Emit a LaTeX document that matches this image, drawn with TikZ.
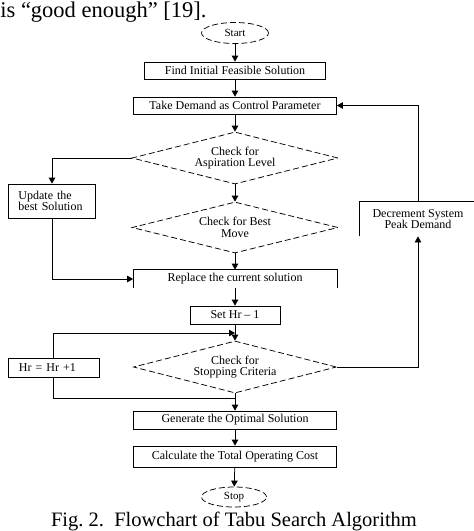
\documentclass[tikz,border=0pt]{standalone}
\usepackage{fontspec}
\setmainfont{Liberation Serif}
\usetikzlibrary{shapes.geometric,arrows.meta}
\newcommand\boxfnt{\fontsize{12}{11.5}\selectfont}
\begin{document}
\begin{tikzpicture}[x=1pt,y=-1pt,
  line width=0.75pt,
  procbox/.style={draw, rectangle, inner sep=1pt, minimum width=203pt, minimum height=18pt, font=\boxfnt},
  openbox/.style={rectangle, inner sep=1pt, font=\boxfnt, align=center},
  decision/.style={draw, diamond, shape aspect=4, inner sep=0pt, dash pattern=on 6pt off 3pt, align=center, font=\boxfnt},
  terminal/.style={draw, ellipse, inner sep=0pt, dash pattern=on 6pt off 3pt, font=\fontsize{11}{11}\selectfont},
  conn/.style={-{Triangle[length=6pt,width=6.5pt]}}
]
\useasboundingbox (0,0) rectangle (474,531);

% surrounding text
\node[anchor=base west, inner sep=0pt, font=\fontsize{22.5}{24}\selectfont] (toptext) at (0,17) {is “good enough” [19].};
\node[anchor=base, inner sep=0pt, font=\fontsize{20.5}{24}\selectfont] (caption) at (234,526) {Fig.~2.\ \ Flowchart of Tabu Search Algorithm};

% main column
\node[terminal, minimum width=67pt, minimum height=21pt] (start) at (235,33) {Start};
\node[procbox, minimum width=181pt, minimum height=17pt] (find) at (235,70.5) {Find Initial Feasible Solution};
\node[procbox, minimum height=17pt] (take) at (235,105.5) {Take Demand as Control Parameter};
\node[decision, minimum width=206pt, minimum height=52pt] (d1) at (235,158) {Check for\\Aspiration Level};
\node[decision, minimum width=206pt, minimum height=51pt] (d2) at (235,227.5) {Check for Best\\Move};
\node[openbox, minimum width=203pt, minimum height=18pt] (replace) at (235,279) {Replace the current solution};
\draw (replace.south west) -- (replace.north west) -- (replace.north east) -- (replace.south east);
\node[procbox, minimum width=90pt] (set) at (235,315) {Set Hr – 1};
\node[decision, minimum width=203pt, minimum height=52pt] (d3) at (235,367) {Check for\\Stopping Criteria};
\node[procbox] (gen) at (235,420) {Generate the Optimal Solution};
\node[procbox, minimum height=21pt] (calc) at (235,456.5) {Calculate the Total Operating Cost};
\node[terminal, minimum width=65pt, minimum height=20pt] (stop) at (234,497) {Stop};

% side boxes
\node[draw, rectangle, font=\boxfnt, align=left, inner xsep=10pt, inner ysep=1pt, text width=67pt, minimum height=34pt] (update) at (52,201) {Update the\\best Solution};
\node[draw, rectangle, font=\boxfnt, align=left, inner xsep=11pt, inner ysep=1pt, text width=69pt, minimum height=19pt] (hr) at (53.5,367.5) {Hr = Hr +1};
\node[openbox, minimum width=116pt, minimum height=34pt] (dec) at (418,219) {Decrement System\\Peak Demand};
\draw (dec.south west) -- (dec.north west) -- (dec.north east);

% junction points on the main column
\coordinate (j1) at (235,333);
\coordinate (j2) at (235,398);

% connectors
\draw[conn] (start) -- (find);
\draw[conn] (find) -- (take);
\draw[conn] (take) -- (d1);
\draw[conn] (d1) -- (d2);
\draw[conn] (d2) -- (replace);
\draw[conn] (replace) -- (set);
\draw[conn] (set) -- (d3);
\draw[conn] (d3) -- (gen);
\draw[conn] (gen) -- (calc);
\draw[conn] (calc) -- (stop);
\draw[conn] (d1.west) -| (update.north);
\draw[conn] (update.south) |- (replace.west);
\draw[conn] (d3.east) -| (dec.south);
\draw[conn] (dec.north) |- (take.east);
\draw[conn] (hr.north) |- (j1);
\draw (hr.south) |- (j2);
\end{tikzpicture}
\end{document}
